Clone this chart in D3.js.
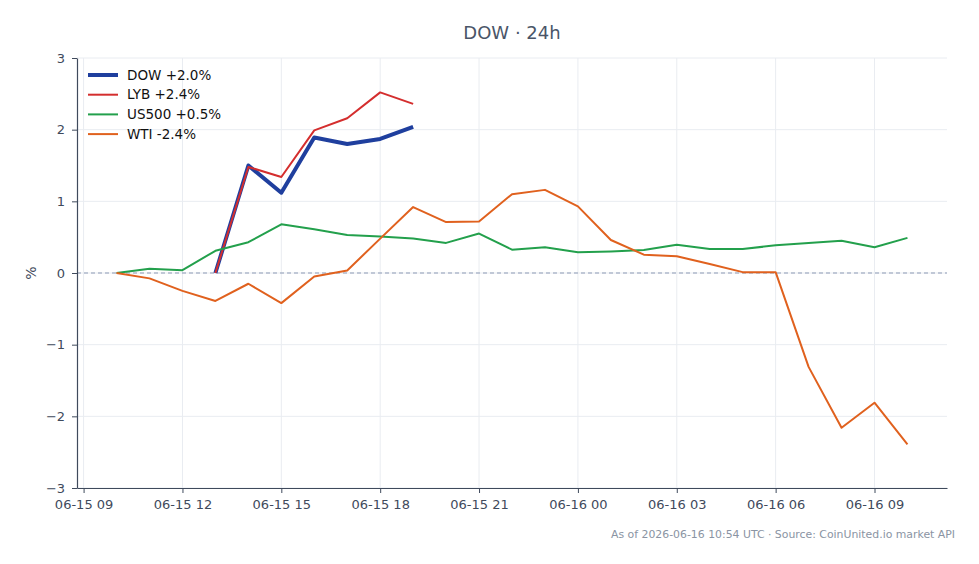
<!DOCTYPE html>
<html>
<head>
<meta charset="utf-8">
<script src="https://cdn.jsdelivr.net/npm/d3@7"></script>
<style>
  body { margin: 0; background: #fff; font-family: "DejaVu Sans", sans-serif; }
  svg { display: block; }
</style>
</head>
<body>
<div id="chart"></div>
<script>
// hourly points, 06-15 10:00 -> 06-16 10:00 (UTC)
var startTime = "2026-06-15T10:00:00Z";
var hours = d3.range(25);

var dowValues   = [null, null, null, 0, 1.50, 1.12, 1.89, 1.80, 1.87, 2.04];
var lybValues   = [null, null, null, 0, 1.48, 1.34, 1.99, 2.16, 2.52, 2.36];
var us500Values = [0, 0.06, 0.04, 0.31, 0.43, 0.68, 0.61, 0.53, 0.51, 0.48, 0.42, 0.55,
                   0.325, 0.36, 0.29, 0.30, 0.32, 0.395, 0.335, 0.335, 0.386, 0.42, 0.45, 0.36, 0.49];
var wtiValues   = [0, -0.075, -0.25, -0.39, -0.15, -0.42, -0.05, 0.035, 0.48, 0.92, 0.71, 0.72,
                   1.10, 1.16, 0.93, 0.46, 0.256, 0.233, 0.125, 0.012, 0.012, -1.31, -2.16, -1.81, -2.39];

var seriesNames  = ["DOW", "LYB", "US500", "WTI"];
var seriesColors = ["#1f3f9e", "#d42e2e", "#23a04c", "#e0611e"];
var seriesWidths = [4, 2, 2, 2];
var yTicks = [-3, -2, -1, 0, 1, 2, 3];

var series = [dowValues, lybValues, us500Values, wtiValues].map(function(vals, k) {
    return {
        name: seriesNames[k],
        color: seriesColors[k],
        width: seriesWidths[k],
        points: vals.map(function(v, i) {
            return { t: d3.utcHour.offset(new Date(startTime), hours[i]), v: v };
        }).filter(function(p) { return p.v !== null; })
    };
});

var w = 979, h = 564;
var margin = { top: 58, right: 32, bottom: 76, left: 77 };
var innerW = w - margin.left - margin.right;
var innerH = h - margin.top - margin.bottom;

var svg = d3.select("#chart").append("svg").attr("width", w).attr("height", h);

var t0 = new Date(startTime), t1 = d3.utcHour.offset(t0, 24);
var pad = (t1 - t0) * 0.05;
var x = d3.scaleUtc()
    .domain([new Date(+t0 - pad), new Date(+t1 + pad)])
    .range([margin.left, margin.left + innerW]);
var y = d3.scaleLinear().domain([-3, 3]).range([margin.top + innerH, margin.top]);

var xTicks = d3.utcHour.every(3).range(new Date(+t0 - pad), new Date(+t1 + pad));

// grid
svg.append("g").selectAll("line").data(xTicks).enter().append("line")
    .attr("x1", d => x(d)).attr("x2", d => x(d))
    .attr("y1", margin.top).attr("y2", margin.top + innerH)
    .attr("stroke", "#e9ecf1").attr("stroke-width", 1);
svg.append("g").selectAll("line").data(yTicks).enter().append("line")
    .attr("x1", margin.left).attr("x2", margin.left + innerW)
    .attr("y1", d => y(d)).attr("y2", d => y(d))
    .attr("stroke", "#e9ecf1").attr("stroke-width", 1);

// zero line
svg.append("line")
    .attr("x1", margin.left).attr("x2", margin.left + innerW)
    .attr("y1", y(0)).attr("y2", y(0))
    .attr("stroke", "#8d9bb5").attr("stroke-width", 1).attr("stroke-dasharray", "4,3");

// axes
var xAxis = svg.append("g")
    .attr("transform", "translate(0," + (margin.top + innerH) + ")")
    .call(d3.axisBottom(x).tickValues(xTicks).tickFormat(d3.utcFormat("%m-%d %H")).tickSize(5).tickSizeOuter(0));
var yAxis = svg.append("g")
    .attr("transform", "translate(" + margin.left + ",0)")
    .call(d3.axisLeft(y).tickValues(yTicks).tickFormat(d3.format("d")).tickSize(5).tickSizeOuter(0));

[xAxis, yAxis].forEach(function(a) {
    a.attr("font-family", "DejaVu Sans").attr("font-size", 13);
    a.select(".domain").attr("stroke", "#3f4a5c").attr("stroke-width", 1.2);
    a.selectAll(".tick line").attr("stroke", "#3f4a5c");
    a.selectAll("text").attr("fill", "#3f4a5c");
});
xAxis.selectAll("text").attr("dy", "1.0em");
yAxis.selectAll("text").attr("dx", "-0.3em");

svg.append("text")
    .attr("transform", "translate(31," + y(0) + ") rotate(-90)")
    .attr("text-anchor", "middle").attr("dy", "0.35em")
    .attr("fill", "#3f4a5c").style("font-size", "14px")
    .text("%");

// lines
var line = d3.line().x(d => x(d.t)).y(d => y(d.v));
svg.append("g").selectAll("path").data(series).enter().append("path")
    .attr("d", d => line(d.points))
    .attr("fill", "none")
    .attr("stroke", d => d.color)
    .attr("stroke-width", d => d.width)
    .attr("stroke-linejoin", "round");

// legend
var legend = svg.append("g").attr("transform", "translate(88,75)");
var rows = legend.selectAll("g").data(series).enter().append("g")
    .attr("transform", (d, i) => "translate(0," + (i * 19.7) + ")");
rows.append("line")
    .attr("x1", 0).attr("x2", 30).attr("y1", 0).attr("y2", 0)
    .attr("stroke", d => d.color).attr("stroke-width", d => d.width);
rows.append("text")
    .attr("x", 39).attr("dy", "0.35em")
    .attr("fill", "#111").style("font-size", "13.5px")
    .text(function(d) {
        var last = d.points[d.points.length - 1].v;
        return d.name + " " + (last >= 0 ? "+" : "") + last.toFixed(1) + "%";
    });

// title + footer
svg.append("text")
    .attr("x", 512).attr("y", 39)
    .attr("text-anchor", "middle")
    .attr("fill", "#4a5568").style("font-size", "18px")
    .text("DOW · 24h");
svg.append("text")
    .attr("x", 955).attr("y", 538)
    .attr("text-anchor", "end")
    .attr("fill", "#8a94a3").style("font-size", "10px")
    .attr("textLength", 344).attr("lengthAdjust", "spacingAndGlyphs")
    .text("As of 2026-06-16 10:54 UTC · Source: CoinUnited.io market API");
</script>
</body>
</html>
